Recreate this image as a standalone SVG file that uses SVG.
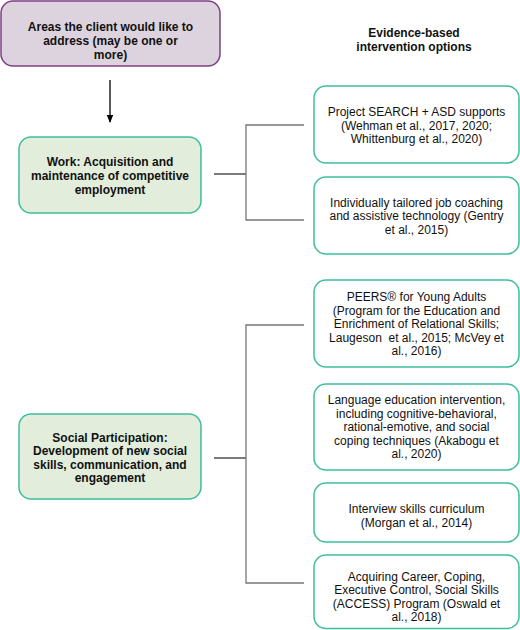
<svg xmlns="http://www.w3.org/2000/svg" width="520" height="630" viewBox="0 0 520 630">
<style>
.b{font-family:"Liberation Sans",Arial,sans-serif;font-size:12px;font-weight:bold;fill:#111;text-anchor:middle}
.r{font-family:"Liberation Sans",Arial,sans-serif;font-size:12px;fill:#111;text-anchor:middle}
.top{fill:#dcd3de;stroke:#7d3f83;stroke-width:1.5}
.area{fill:#e2eedb;stroke:#3dbf9c;stroke-width:1.5}
.opt{fill:#ffffff;stroke:#3dbf9c;stroke-width:1.5}
.ln{stroke:#777;stroke-width:1.3;fill:none}
.lnd{stroke:#333;stroke-width:1.3;fill:none}
</style>
<defs>
<marker id="ah" markerWidth="8" markerHeight="7" refX="7" refY="3.25" orient="auto" markerUnits="userSpaceOnUse">
<path d="M0,0 L8,3.25 L0,6.5 Z" fill="#000"/>
</marker>
</defs>
<rect width="520" height="630" fill="#ffffff"/>
<g id="connectors">
<line x1="110" y1="80" x2="110" y2="122" stroke="#000" stroke-width="1.3" marker-end="url(#ah)"/>
<line class="lnd" x1="214" y1="174" x2="246" y2="174"/>
<path class="ln" d="M304,125 H246 V220 H304"/>
<line class="lnd" x1="214" y1="458" x2="246" y2="458"/>
<path class="ln" d="M304,325 H246 V583 H304"/>
</g>
<g id="areas">
<rect class="top" x="1" y="1" width="219" height="65" rx="12"/>
<text class="b" x="110.5" y="31">Areas the client would like to</text>
<text class="b" x="110.5" y="45">address (may be one or</text>
<text class="b" x="110.5" y="59">more)</text>
</g>
<g id="header">
<text class="b" x="414" y="36.5">Evidence-based</text>
<text class="b" x="414" y="50.5">intervention options</text>
</g>
<g id="work">
<rect class="area" x="19" y="137" width="182" height="76" rx="12"/>
<text class="b" x="110" y="166">Work: Acquisition and</text>
<text class="b" x="110" y="180">maintenance of competitive</text>
<text class="b" x="110" y="193.5">employment</text>
</g>
<g id="social">
<rect class="area" x="19" y="414" width="182" height="85" rx="12"/>
<text class="b" x="110" y="441.5">Social Participation:</text>
<text class="b" x="110" y="455">Development of new social</text>
<text class="b" x="110" y="468.5">skills, communication, and</text>
<text class="b" x="110" y="482">engagement</text>
</g>
<g id="opt1">
<rect class="opt" x="314" y="86" width="205" height="77" rx="12"/>
<text class="r" x="416.5" y="116">Project SEARCH + ASD supports</text>
<text class="r" x="416.5" y="129.5">(Wehman et al., 2017, 2020;</text>
<text class="r" x="416.5" y="143">Whittenburg et al., 2020)</text>
</g>
<g id="opt2">
<rect class="opt" x="314" y="177" width="205" height="77" rx="12"/>
<text class="r" x="416.5" y="206.5">Individually tailored job coaching</text>
<text class="r" x="416.5" y="220">and assistive technology (Gentry</text>
<text class="r" x="416.5" y="233.5">et al., 2015)</text>
</g>
<g id="opt3">
<rect class="opt" x="314" y="280" width="205" height="87" rx="12"/>
<text class="r" x="416.5" y="301">PEERS® for Young Adults</text>
<text class="r" x="416.5" y="314.5">(Program for the Education and</text>
<text class="r" x="416.5" y="328">Enrichment of Relational Skills;</text>
<text class="r" x="416.5" y="341.5" xml:space="preserve">Laugeson  et al., 2015; McVey et</text>
<text class="r" x="416.5" y="355">al., 2016)</text>
</g>
<g id="opt4">
<rect class="opt" x="314" y="384" width="205" height="86" rx="12"/>
<text class="r" x="416.5" y="404">Language education intervention,</text>
<text class="r" x="416.5" y="417.5">including cognitive-behavioral,</text>
<text class="r" x="416.5" y="431">rational-emotive, and social</text>
<text class="r" x="416.5" y="444.5">coping techniques (Akabogu et</text>
<text class="r" x="416.5" y="458">al., 2020)</text>
</g>
<g id="opt5">
<rect class="opt" x="314" y="483" width="205" height="59" rx="12"/>
<text class="r" x="416.5" y="513">Interview skills curriculum</text>
<text class="r" x="416.5" y="527">(Morgan et al., 2014)</text>
</g>
<g id="opt6">
<rect class="opt" x="314" y="555" width="205" height="73.5" rx="12"/>
<text class="r" x="416.5" y="580.5">Acquiring Career, Coping,</text>
<text class="r" x="416.5" y="594">Executive Control, Social Skills</text>
<text class="r" x="416.5" y="607.5">(ACCESS) Program (Oswald et</text>
<text class="r" x="416.5" y="621">al., 2018)</text>
</g>
</svg>
